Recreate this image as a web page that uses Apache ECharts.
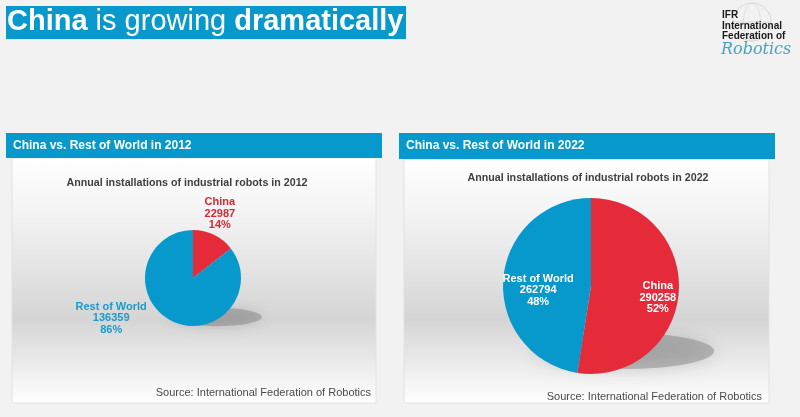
<!DOCTYPE html>
<html>
<head>
<meta charset="utf-8">
<script src="https://cdn.jsdelivr.net/npm/echarts@6/dist/echarts.min.js"></script>
<style>
  html, body { margin: 0; padding: 0; background: #f2f2f2; }
  #main { width: 800px; height: 417px; }
</style>
</head>
<body>
<div id="main"></div>
<script>
const categories = ['China', 'Rest of World'];
const values2012 = [22987, 136359];
const values2022 = [290258, 262794];
const pageTitle = ['China', ' is growing ', 'dramatically'];
const panelTitles = ['China vs. Rest of World in 2012', 'China vs. Rest of World in 2022'];
const chartTitles = ['Annual installations of industrial robots in 2012', 'Annual installations of industrial robots in 2022'];
const sourceText = 'Source: International Federation of Robotics';

const BLUE = '#0799cb';
const RED = '#e52a3a';
const FONT = 'Liberation Sans, Arial, sans-serif';

let chart = echarts.init(document.getElementById('main'));

function cardFill() {
  return new echarts.graphic.LinearGradient(0, 0, 0, 1, [
    {offset: 0, color: '#ffffff'},
    {offset: 0.2, color: '#f5f5f5'},
    {offset: 0.66, color: '#d5d5d5'},
    {offset: 1, color: '#ffffff'}
  ]);
}

function toData(values) {
  return categories.map((c, i) => ({
    name: c,
    value: values[i],
    itemStyle: {color: i === 0 ? RED : BLUE}
  }));
}

// soft flattened shadow under a pie
function pieShadow(cx, cy, r, blur) {
  return {
    type: 'circle', z: 1, shape: {cx: cx, cy: cy, r: r}, scaleY: 0.2, originX: cx, originY: cy,
    style: {fill: 'rgba(125,125,125,0.45)', shadowBlur: blur, shadowColor: 'rgba(125,125,125,0.7)'}
  };
}

chart.setOption({
  backgroundColor: '#f2f2f2',
  animation: false,
  graphic: [
    // page title bar
    {type: 'rect', z: 1, shape: {x: 6, y: 6, width: 400, height: 33}, style: {fill: '#0799cb'}},
    {
      type: 'text', z: 2, x: 7, y: 22,
      style: {
        text: '{b|' + pageTitle[0] + '}{r|' + pageTitle[1] + '}{b|' + pageTitle[2] + '}',
        verticalAlign: 'middle',
        rich: {
          b: {fontFamily: FONT, fontSize: 29, fontWeight: 'bold', fill: '#fff'},
          r: {fontFamily: FONT, fontSize: 29, fill: '#fff'}
        }
      }
    },
    // logo
    {type: 'circle', z: 1, shape: {cx: 752, cy: 22, r: 19}, style: {fill: 'none', stroke: '#d8d8d8', lineWidth: 1}},
    {type: 'circle', z: 1, shape: {cx: 752, cy: 22, r: 19}, scaleX: 0.45, originX: 752, originY: 22, style: {fill: 'none', stroke: '#d8d8d8', lineWidth: 1}},
    {type: 'line', z: 1, shape: {x1: 733, y1: 22, x2: 771, y2: 22}, style: {stroke: '#d8d8d8', lineWidth: 1}},
    {
      type: 'text', z: 2, x: 722, y: 10,
      style: {text: 'IFR\nInternational\nFederation of', fontFamily: FONT, fontSize: 10, fontWeight: 'bold', lineHeight: 10.5, fill: '#1a1a1a'}
    },
    {
      type: 'text', z: 2, x: 721, y: 42,
      style: {text: 'Robotics', fontFamily: 'DejaVu Serif, serif', fontStyle: 'italic', fontSize: 16, fill: '#3ea6bd'}
    },
    // left panel
    {type: 'rect', z: 1, shape: {x: 12, y: 158, width: 364, height: 245}, style: {fill: cardFill(), stroke: '#e2e2e2', lineWidth: 1}},
    {type: 'rect', z: 1, shape: {x: 6, y: 133, width: 376, height: 25}, style: {fill: '#0799cb'}},
    {type: 'text', z: 2, x: 13, y: 146, style: {text: panelTitles[0], fontFamily: FONT, fontSize: 12, fontWeight: 'bold', fill: '#fff', verticalAlign: 'middle'}},
    {type: 'text', z: 2, x: 187, y: 183, style: {text: chartTitles[0], fontFamily: FONT, fontSize: 10.7, fontWeight: 'bold', fill: '#404040', align: 'center', verticalAlign: 'middle'}},
    {type: 'text', z: 2, x: 371, y: 393, style: {text: sourceText, fontFamily: FONT, fontSize: 11, fill: '#4a4a4a', align: 'right', verticalAlign: 'middle'}},
    pieShadow(216, 317, 46, 14),
    // right panel
    {type: 'rect', z: 1, shape: {x: 404, y: 159, width: 365, height: 244}, style: {fill: cardFill(), stroke: '#e2e2e2', lineWidth: 1}},
    {type: 'rect', z: 1, shape: {x: 399, y: 133, width: 376, height: 26}, style: {fill: '#0799cb'}},
    {type: 'text', z: 2, x: 406, y: 146, style: {text: panelTitles[1], fontFamily: FONT, fontSize: 12, fontWeight: 'bold', fill: '#fff', verticalAlign: 'middle'}},
    {type: 'text', z: 2, x: 588, y: 178, style: {text: chartTitles[1], fontFamily: FONT, fontSize: 10.7, fontWeight: 'bold', fill: '#404040', align: 'center', verticalAlign: 'middle'}},
    {type: 'text', z: 2, x: 762, y: 397, style: {text: sourceText, fontFamily: FONT, fontSize: 11, fill: '#4a4a4a', align: 'right', verticalAlign: 'middle'}},
    pieShadow(624, 351, 90, 18)
  ],
  series: [
    {
      type: 'pie',
      center: [193, 278],
      radius: 48,
      startAngle: 90,
      clockwise: true,
      percentPrecision: 0,
      silent: true,
      label: {
        position: 'inside',
        formatter: '{b}\n{c}\n{d}%',
        fontFamily: FONT,
        fontSize: 11,
        fontWeight: 'bold',
        lineHeight: 11.5,
        color: BLUE
      },
      labelLine: {show: false},
      labelLayout: function (p) {
        return p.dataIndex === 0 ? {dx: 15, dy: -40} : {dx: -70, dy: 16};
      },
      data: toData(values2012).map((d, i) => Object.assign(d, {label: {color: i === 0 ? '#d42a36' : '#1a9bcb'}}))
    },
    {
      type: 'pie',
      center: [591, 286],
      radius: 88,
      startAngle: 90,
      clockwise: true,
      percentPrecision: 0,
      silent: true,
      label: {
        position: 'inside',
        formatter: '{b}\n{c}\n{d}%',
        fontFamily: FONT,
        fontSize: 11,
        fontWeight: 'bold',
        lineHeight: 11.5,
        color: '#fff'
      },
      labelLine: {show: false},
      labelLayout: function (p) {
        return p.dataIndex === 0 ? {dx: 20, dy: 8} : {dx: -6, dy: 8};
      },
      data: toData(values2022)
    }
  ]
});
</script>
</body>
</html>
